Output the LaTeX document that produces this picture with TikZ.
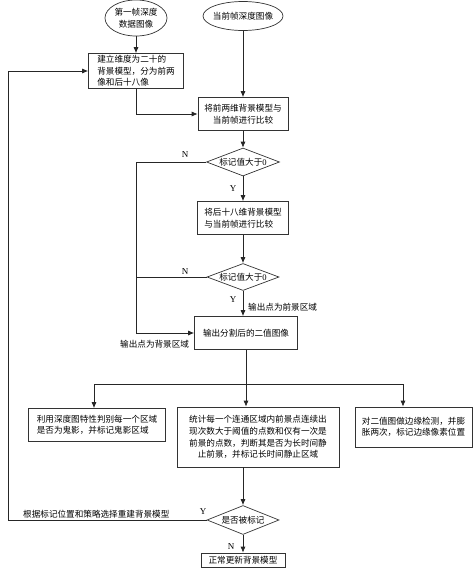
\documentclass[tikz,border=0pt]{standalone}
\usepackage{fontspec}
\setmainfont{Noto Sans CJK SC}
\newfontfamily\latinf{Liberation Serif}
\usetikzlibrary{shapes.geometric,arrows.meta}
\begin{document}
\begin{tikzpicture}[x=1pt,y=-1pt,
  every node/.style={font=\fontsize{8.6}{11.5}\selectfont, text=black},
  box/.style={draw=black!80, line width=0.7pt, inner sep=2pt, rectangle},
  ell/.style={draw=black!80, line width=0.7pt, ellipse, inner xsep=-6pt, inner ysep=0pt, align=center},
  dia/.style={draw=black!80, line width=0.7pt, diamond, aspect=2.6, inner sep=0pt},
  line/.style={draw=black!85, line width=0.7pt},
  arr/.style={line, -{Latex[length=6pt,width=5pt]}},
  yn/.style={font=\fontsize{9}{10}\selectfont\latinf},
  lbl/.style={anchor=west, inner sep=0pt}
]
\useasboundingbox (0,0) rectangle (474,571);

% nodes
\node[ell, minimum width=62, minimum height=36] (e1) at (136,18) {第一帧深度\\数据图像};
\node[ell, minimum width=80, minimum height=29] (e2) at (243,16) {当前帧深度图像};
\node[box, align=left, minimum width=95, minimum height=34] (b1) at (136,71) {建立维度为二十的\\背景模型，分为前两\\像和后十八像};
\node[box, align=center, minimum width=90, minimum height=33] (b2) at (243,114) {将前两维背景模型与\\当前帧进行比较};
\node[dia, minimum width=73, minimum height=28] (d1) at (243,162) {标记值大于{\latinf 0}};
\node[box, align=left, minimum width=91, minimum height=33] (b3) at (243,218) {将后十八维背景模型\\与当前帧进行比较};
\node[dia, minimum width=72, minimum height=27] (d2) at (243,277) {标记值大于{\latinf 0}};
\node[box, minimum width=103, minimum height=33] (b4) at (246,333) {输出分割后的二值图像};
\node[box, align=left, minimum width=137, minimum height=33] (b5) at (97,425) {利用深度图特性判别每一个区域\\是否为鬼影，并标记鬼影区域};
\node[box, align=center, minimum width=162, minimum height=60, font=\fontsize{8.6}{11.7}\selectfont] (b6) at (258,437) {统计每一个连通区域内前景点连续出\\现次数大于阈值的点数和仅有一次是\\前景的点数，判断其是否为长时间静\\止前景，并标记长时间静止区域};
\node[box, align=left, minimum width=117, minimum height=40] (b7) at (413.5,427) {对二值图做边缘检测，并膨\\胀两次，标记边缘像素位置};
\node[dia, minimum width=72, minimum height=29] (d3) at (243,520) {是否被标记};
\node[box, minimum width=84, minimum height=14, inner ysep=1pt] (b8) at (243,560) {正常更新背景模型};

% helper coordinates
\coordinate (nl) at (136,162);
\coordinate (bl) at (94,384);
\coordinate (br) at (403,384);
\coordinate (ll) at (8,71);

% connectors
\draw[arr] (e1.south) -- (e1.south |- b1.north);
\draw[arr] (e2.south) -- (b2.north);
\draw[arr] (e1.south |- b1.south) |- (b2.west);
\draw[arr] (b2.south) -- (d1.north);
\draw[arr] (d1.south) -- (b3.north);
\draw[arr] (b3.south) -- (d2.north);
\draw[arr] (d2.south) -- (d2.south |- b4.north);
\draw[arr] (d1.west) -- (d1.west -| nl) |- (b4.west);
\draw[line] (d2.west) -- (d2.west -| nl);
\draw[line] (bl) -- (br);
\draw[arr] (bl) -- (bl |- b5.north);
\draw[arr] (br) -- (br |- b7.north);
\draw[arr] (b4.south) -- (b4.south |- b6.north);
\draw[arr] (b6.south -| d3.north) -- (d3.north);
\draw[arr] (d3.west) -| (ll) -- (b1.west);
\draw[arr] (d3.south) -- (b8.north);

% labels
\node[yn] (n1) at (185,155) {N};
\node[yn] (n2) at (185,272) {N};
\node[yn] (y1) at (233,189) {Y};
\node[yn] (y2) at (233,300) {Y};
\node[yn] (y3) at (203,512) {Y};
\node[yn] (n3) at (231,547) {N};
\node[lbl] (t1) at (248,307) {输出点为前景区域};
\node[lbl] (t2) at (120,344) {输出点为背景区域};
\node[lbl] (t3) at (23,514) {根据标记位置和策略选择重建背景模型};
\end{tikzpicture}
\end{document}
